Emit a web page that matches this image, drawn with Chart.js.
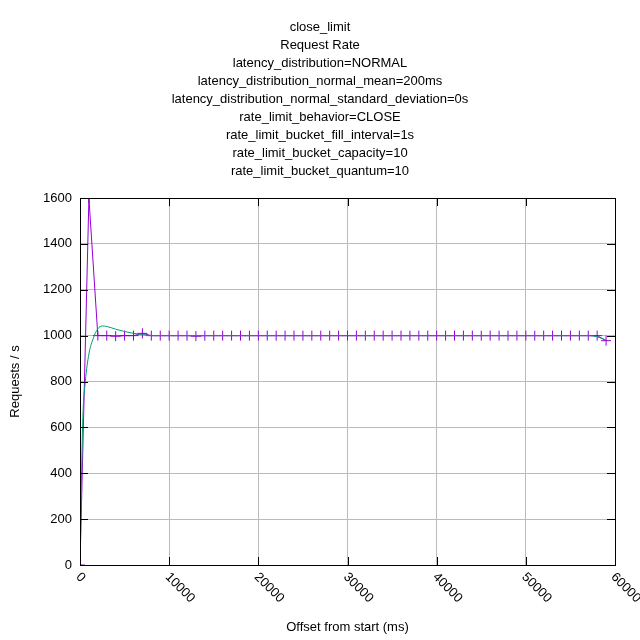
<!DOCTYPE html>
<html>
<head>
<meta charset="utf-8">
<script src="https://cdn.jsdelivr.net/npm/chart.js@4"></script>
<style>
  html, body { margin: 0; padding: 0; background: #fff; }
  #wrap { width: 640px; height: 640px; }
</style>
</head>
<body>
<div id="wrap"><canvas id="chart" width="640" height="640"></canvas></div>
<script>
// title lines
const titleLines = [
  'close_limit',
  'Request Rate',
  'latency_distribution=NORMAL',
  'latency_distribution_normal_mean=200ms',
  'latency_distribution_normal_standard_deviation=0s',
  'rate_limit_behavior=CLOSE',
  'rate_limit_bucket_fill_interval=1s',
  'rate_limit_bucket_capacity=10',
  'rate_limit_bucket_quantum=10'
];
const xTicks = [0, 10000, 20000, 30000, 40000, 50000, 60000];
const yTicks = [0, 200, 400, 600, 800, 1000, 1200, 1400, 1600];

// raw samples, one per second
const rawX = [0, 1000, 2000, 3000, 4000, 5000, 6000, 7000, 8000, 9000,
  10000, 11000, 12000, 13000, 14000, 15000, 16000, 17000, 18000, 19000,
  20000, 21000, 22000, 23000, 24000, 25000, 26000, 27000, 28000, 29000,
  30000, 31000, 32000, 33000, 34000, 35000, 36000, 37000, 38000, 39000,
  40000, 41000, 42000, 43000, 44000, 45000, 46000, 47000, 48000, 49000,
  50000, 51000, 52000, 53000, 54000, 55000, 56000, 57000, 58000, 59000];
const rawY = [0, 1600, 1000, 1000, 998, 1000, 1000, 1010, 1000, 1000,
  1000, 1000, 1000, 998, 1000, 1000, 1000, 1000, 1000, 1000,
  1000, 1000, 1000, 1000, 1000, 1000, 1000, 1000, 1000, 1000,
  1000, 1000, 1000, 1000, 1000, 1000, 1000, 1000, 1000, 1000,
  1000, 1000, 1000, 1000, 1000, 1000, 1000, 1000, 1000, 1000,
  1000, 1000, 1000, 1000, 1000, 1000, 1000, 1000, 1000, 978];

// smoothed curve
const smoothX = [0, 300, 600, 1000, 1500, 2000, 2500, 3000, 4000, 5000, 6000, 7000, 8000,
  10000, 20000, 30000, 40000, 50000, 57000, 58000, 59000];
const smoothY = [0, 620, 800, 920, 990, 1030, 1042, 1040, 1028, 1018, 1010, 1005, 1000,
  1000, 1000, 1000, 1000, 1000, 1000, 995, 980];

const PURPLE = '#9400d3';
const GREEN = '#009e73';
const FONT = '"Liberation Sans", Arial, sans-serif';

const toPts = (xs, ys) => xs.map((x, i) => ({ x: x, y: ys[i] }));

// draws titles, tick labels, frame and ticks gnuplot style
const decor = {
  id: 'decor',
  afterDraw(chart) {
    const c = chart.ctx;
    const a = chart.chartArea;
    const xs = chart.scales.x, ys = chart.scales.y;
    c.save();
    c.fillStyle = '#000';
    c.font = '13px ' + FONT;
    c.textAlign = 'center';
    c.textBaseline = 'middle';
    titleLines.forEach((t, i) => c.fillText(t, 320, 27 + i * 18));

    // frame
    c.strokeStyle = '#000';
    c.lineWidth = 1;
    c.strokeRect(a.left + 0.5, a.top + 0.5, a.right - a.left, a.bottom - a.top);
    c.beginPath();
    yTicks.forEach(v => {
      const y = Math.round(ys.getPixelForValue(v)) + 0.5;
      c.moveTo(a.left, y); c.lineTo(a.left + 8, y);
      c.moveTo(a.right, y); c.lineTo(a.right - 8, y);
    });
    xTicks.forEach(v => {
      const x = Math.round(xs.getPixelForValue(v)) + 0.5;
      c.moveTo(x, a.bottom); c.lineTo(x, a.bottom - 8);
      c.moveTo(x, a.top); c.lineTo(x, a.top + 8);
    });
    c.stroke();

    c.textAlign = 'right';
    yTicks.forEach(v => c.fillText(String(v), a.left - 8, ys.getPixelForValue(v)));
    c.textAlign = 'left';
    xTicks.forEach(v => {
      c.save();
      c.translate(xs.getPixelForValue(v) - 2, a.bottom + 10);
      c.rotate(Math.PI / 4);
      c.fillText(String(v), 0, 0);
      c.restore();
    });

    c.textAlign = 'center';
    c.fillText('Offset from start (ms)', (a.left + a.right) / 2, 627);
    c.save();
    c.translate(15, (a.top + a.bottom) / 2);
    c.rotate(-Math.PI / 2);
    c.fillText('Requests / s', 0, 0);
    c.restore();
    c.restore();
  }
};

new Chart(document.getElementById('chart'), {
  type: 'line',
  data: {
    datasets: [
      {
        data: toPts(smoothX, smoothY),
        borderColor: GREEN,
        borderWidth: 1,
        pointRadius: 0,
        tension: 0.4,
        cubicInterpolationMode: 'monotone'
      },
      {
        data: toPts(rawX, rawY),
        borderColor: PURPLE,
        borderWidth: 1,
        pointStyle: 'cross',
        pointRadius: 5,
        pointBorderColor: PURPLE,
        pointBorderWidth: 1,
        tension: 0
      }
    ]
  },
  options: {
    responsive: false,
    devicePixelRatio: 1,
    animation: false,
    layout: { padding: { left: 0, right: 25, top: 198, bottom: 0 } },
    plugins: { legend: { display: false }, tooltip: { enabled: false } },
    scales: {
      x: {
        type: 'linear', min: 0, max: 60000,
        afterBuildTicks: s => { s.ticks = xTicks.map(v => ({ value: v })); },
        afterFit: s => { s.height = 75; },
        ticks: { display: false },
        border: { display: false },
        grid: { color: '#bbb', borderDash: [2, 4], drawTicks: false }
      },
      y: {
        min: 0, max: 1600,
        afterBuildTicks: s => { s.ticks = yTicks.map(v => ({ value: v })); },
        afterFit: s => { s.width = 80; },
        ticks: { display: false },
        border: { display: false },
        grid: { color: '#bbb', borderDash: [2, 4], drawTicks: false }
      }
    }
  },
  plugins: [decor]
});
</script>
</body>
</html>
